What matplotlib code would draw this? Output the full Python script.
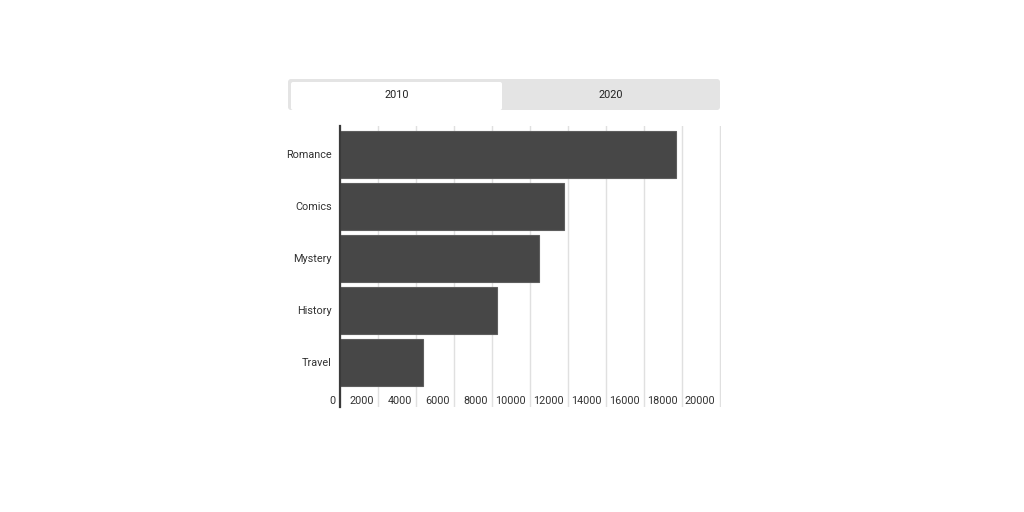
import matplotlib.pyplot as plt
from matplotlib.patches import FancyBboxPatch
from matplotlib.transforms import IdentityTransform, ScaledTranslation

plt.rcParams['font.family'] = ['Roboto', 'DejaVu Sans']

# data (2010 tab shown)
genres = ['Romance', 'Comics', 'Mystery', 'History', 'Travel']
sales_2010 = [17700, 11800, 10500, 8250, 4350]
tabs = ['2010', '2020']
x_ticks = list(range(0, 20001, 2000))

W, H = 1024, 512
fig = plt.figure(figsize=(W / 100, H / 100), dpi=100)


def fx(px):
    return px / W


def fy(py):
    return 1 - py / H


# tab bar on top (pixel coords, y measured from top)
def pix_box(x0, y0, x1, y1, color, r):
    box = FancyBboxPatch((x0, H - y1), x1 - x0, y1 - y0,
                         boxstyle='round,pad=0,rounding_size=%g' % r,
                         transform=IdentityTransform(), facecolor=color,
                         edgecolor='none')
    fig.add_artist(box)


pix_box(288, 79, 720, 110, '#e4e4e4', 3)
pix_box(291, 82, 502, 110, 'white', 2)
fig.text(fx(396.5), fy(95), tabs[0], ha='center', va='center', fontsize=7.8, color='#222222')
fig.text(fx(611), fy(95), tabs[1], ha='center', va='center', fontsize=7.8, color='#222222')

# bar chart
ax = fig.add_axes([fx(340), fy(407), fx(721) - fx(340), (407 - 126) / H])
ax.barh(range(len(genres)), sales_2010, height=0.9, color='#474747',
        edgecolor='#5e5e5e', linewidth=0.8, zorder=3)
ax.set_ylim(4.856, -0.548)
ax.set_xlim(0, 20000 * (721 - 340) / (719.5 - 340))
ax.set_yticks(range(len(genres)))
ax.set_yticklabels(genres)
ax.set_xticks(x_ticks)
ax.xaxis.grid(True, color='#e0e0e0', linewidth=1)
ax.set_axisbelow(True)
for s in ['top', 'right', 'bottom']:
    ax.spines[s].set_visible(False)
ax.spines['left'].set_color('#3a3a3a')
ax.spines['left'].set_linewidth(1.6)
ax.spines['left'].set_zorder(4)
ax.tick_params(axis='y', length=0, pad=6, labelsize=7.8, labelcolor='#333333')
ax.tick_params(axis='x', length=0, pad=-8, labelsize=7.8, labelcolor='#333333')
for lab in ax.get_xticklabels():
    lab.set_horizontalalignment('right')
    lab.set_transform(lab.get_transform() + ScaledTranslation(-4 / 100, 0, fig.dpi_scale_trans))

fig.savefig('out.png', dpi=100)
